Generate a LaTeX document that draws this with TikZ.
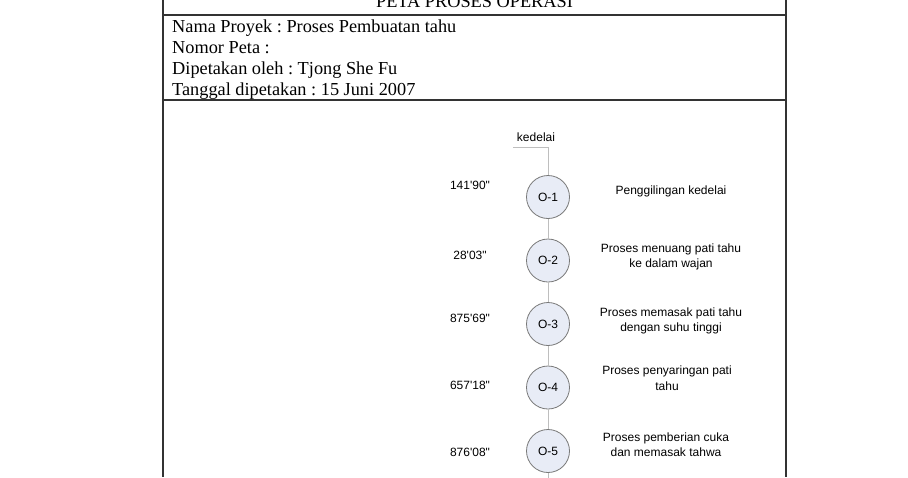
\documentclass[tikz,border=0pt]{standalone}
\usepackage{fontspec}
\setmainfont{Liberation Serif}
\newfontfamily\diafont{Liberation Sans}[Ligatures=TeXOff]
\usepackage{xcolor}
\usepackage{tikz}
\usetikzlibrary{calc}
\usetikzlibrary{positioning}
\frenchspacing

\definecolor{isilingkaran}{RGB}{232,236,246}
\definecolor{garistepi}{RGB}{120,120,120}
\definecolor{garisalir}{RGB}{190,190,190}

\tikzset{
	kepala/.style={anchor=base west,inner sep=0pt,font=\fontsize{18.3}{21}\selectfont},
	operasi/.style={circle,draw=garistepi,fill=isilingkaran,line width=0.8pt,minimum size=43pt,inner sep=0pt,font=\diafont\fontsize{12}{14}\selectfont},
	waktu/.style={anchor=base,inner sep=0pt,font=\diafont\fontsize{12}{14}\selectfont},
	ket/.style={align=center,inner sep=0pt,font=\diafont\fontsize{12}{15.5}\selectfont},
	alir/.style={draw=garisalir,line width=0.8pt}
}

\begin{document}
\begin{tikzpicture}[x=1pt,y=-1pt]
	\useasboundingbox (0,0) rectangle (908,477);
	\fill[white] (0,0) rectangle (908,477);
	% tabel kepala peta
	\draw[line width=1.2pt,black!80] (163,0) -- (163,477);
	\draw[line width=1.2pt,black!80] (786,0) -- (786,477);
	\draw[line width=1.2pt,black!80] (163,15) -- (786,15);
	\draw[line width=1.2pt,black!80] (163,100) -- (786,100);
	\node[kepala,anchor=base] (judul) at (474.5,7.5) {PETA PROSES OPERASI};
	\node[kepala] (nama) at (172,32) {Nama Proyek : Proses Pembuatan tahu};
	\node[kepala] (nomor) at (172,53) {Nomor Peta :};
	\node[kepala] (pemeta) at (172,74) {Dipetakan oleh : Tjong She Fu};
	\node[kepala] (tanggal) at (172,95) {Tanggal dipetakan : 15 Juni 2007};
	% bahan masuk
	\node[waktu] (kedelai) at (536,141) {kedelai};
	\coordinate (ujung) at (513,147);
	\coordinate (masuk) at (548,147);
	% operasi
	\node[operasi] (o1) at (548,197) {O-1};
	\node[operasi] (o2) at (548,260.5) {O-2};
	\node[operasi] (o3) at (548,324) {O-3};
	\node[operasi] (o4) at (548,387.5) {O-4};
	\node[operasi] (o5) at (548,451) {O-5};
	\coordinate (bawah) at (548,480);
	\draw[alir] (ujung) -- (masuk) -- (o1);
	\draw[alir] (o1) -- (o2);
	\draw[alir] (o2) -- (o3);
	\draw[alir] (o3) -- (o4);
	\draw[alir] (o4) -- (o5);
	\draw[alir] (o5) -- (bawah);
	% waktu
	\node[waktu] (t1) at (470,189.3) {141'90"};
	\node[waktu] (t2) at (470,259.3) {28'03"};
	\node[waktu] (t3) at (470,322.3) {875'69"};
	\node[waktu] (t4) at (470,389.3) {657'18"};
	\node[waktu] (t5) at (470,456.3) {876'08"};
	% keterangan
	\node[ket] (k1) at (671,191) {Penggilingan kedelai};
	\node[ket] (k2) at (671,257) {Proses menuang pati tahu\\ke dalam wajan};
	\node[ket] (k3) at (671,321) {Proses memasak pati tahu\\dengan suhu tinggi};
	\node[ket] (k4) at (667,378) {Proses penyaringan pati\\tahu};
	\node[ket] (k5) at (666,444.5) {Proses pemberian cuka\\dan memasak tahwa};
\end{tikzpicture}
\end{document}
